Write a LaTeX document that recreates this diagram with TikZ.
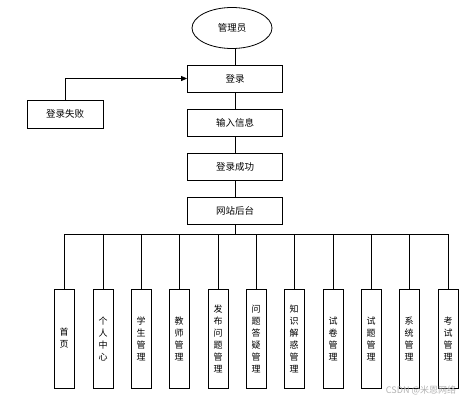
\documentclass[tikz,border=0pt]{standalone}
\usepackage{fontspec}
\setmainfont{Noto Sans CJK SC}
\usetikzlibrary{shapes.geometric,arrows.meta}
\tikzset{
  stepbox/.style={draw,line width=0.8pt,minimum width=95pt,minimum height=27pt,font=\fontsize{9.5}{11}\selectfont},
  modbox/.style={draw,line width=0.8pt,minimum width=20pt,minimum height=99pt,inner sep=0pt,align=center,font=\fontsize{9}{12}\selectfont},
}
\begin{document}
\begin{tikzpicture}[x=1pt,y=-1pt,line width=0.8pt]
  \useasboundingbox (0,0) rectangle (474,402);
  \node[draw,ellipse,minimum width=80pt,minimum height=41pt,font=\fontsize{9.5}{11}\selectfont] (admin) at (232,28) {管理员};
  \node[stepbox] (login) at (235,78.5) {登录};
  \node[stepbox,minimum width=76pt,minimum height=28pt] (fail) at (65,114) {登录失败};
  \node[stepbox] (input) at (235,122.5) {输入信息};
  \node[stepbox] (ok) at (235,166.5) {登录成功};
  \node[stepbox] (site) at (235,210.5) {网站后台};
  \coordinate (bus) at (235,234);
  \node[modbox] (home) at (64,338.5) {首\\页};
  \node[modbox] (self) at (103,338.5) {个\\人\\中\\心};
  \node[modbox] (stu) at (141,338.5) {学\\生\\管\\理};
  \node[modbox] (tea) at (179,338.5) {教\\师\\管\\理};
  \node[modbox] (ask) at (218,338.5) {发\\布\\问\\题\\管\\理};
  \node[modbox] (ans) at (256,338.5) {问\\题\\答\\疑\\管\\理};
  \node[modbox] (know) at (294,338.5) {知\\识\\解\\惑\\管\\理};
  \node[modbox] (paper) at (333,338.5) {试\\卷\\管\\理};
  \node[modbox] (ques) at (371,338.5) {试\\题\\管\\理};
  \node[modbox] (sys) at (409,338.5) {系\\统\\管\\理};
  \node[modbox] (exam) at (448,338.5) {考\\试\\管\\理};
  \node[text=black!30,font=\fontsize{9}{10}\selectfont] (mark) at (421,390) {CSDN @米恩网络};
  \begin{scope}[-]
    \draw (admin.south -| login) -- (login);
    \draw (login) -- (input);
    \draw (input) -- (ok);
    \draw (ok) -- (site);
    \draw[-{Triangle[length=6pt,width=5pt]}] (fail.north) |- (login.west);
    \draw (site.south) -- (bus);
    \draw (home.north) |- (bus);
    \draw (self.north) |- (bus);
    \draw (stu.north) |- (bus);
    \draw (tea.north) |- (bus);
    \draw (ask.north) |- (bus);
    \draw (ans.north) |- (bus);
    \draw (know.north) |- (bus);
    \draw (paper.north) |- (bus);
    \draw (ques.north) |- (bus);
    \draw (sys.north) |- (bus);
    \draw (exam.north) |- (bus);
  \end{scope}
\end{tikzpicture}
\end{document}
